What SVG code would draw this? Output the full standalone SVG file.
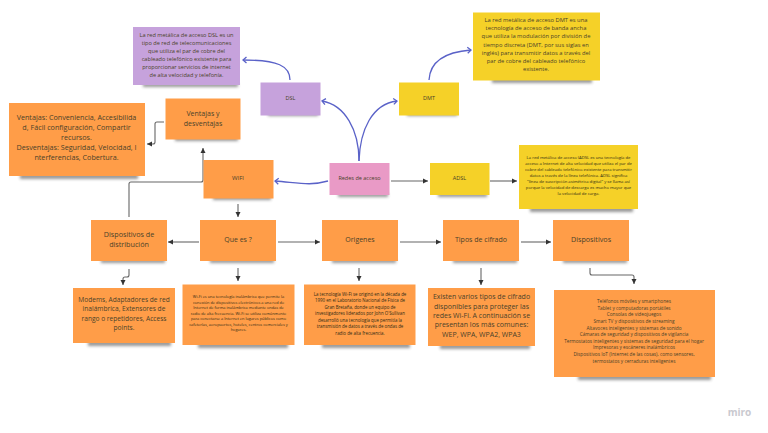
<svg xmlns="http://www.w3.org/2000/svg" width="768" height="433" viewBox="0 0 768 433">
<style>
text{font-family:"Open Sans","Noto Sans","Liberation Sans",sans-serif;fill:#4a4228;text-anchor:middle}
.o{fill:#ff9d48}.y{fill:#f5d128}.p{fill:#c6a2dc}.m{fill:#e99ac6}
.s{fill:#333;opacity:.5;filter:url(#b)}
.bl{fill:none;stroke:#5a62c8;stroke-width:1.3;marker-end:url(#ab)}
.gr{fill:none;stroke:#666;stroke-width:1.1;marker-end:url(#ag)}
.t39{font-size:3.9px}.t4{font-size:4px}.t42{font-size:4.2px}.t44{font-size:4.4px}.t47{font-size:4.75px}.t55{font-size:5.5px}.t56{font-size:5.6px}.t58{font-size:5.8px}.t6{font-size:6px}.t66{font-size:6.6px}.t7{font-size:7px}.t72{font-size:7.2px}
</style>
<defs>
<filter id="b" x="-20%" y="-200%" width="140%" height="500%"><feGaussianBlur stdDeviation="1.8"/></filter>
<marker id="ab" markerWidth="7" markerHeight="8" refX="5.5" refY="4" orient="auto" markerUnits="userSpaceOnUse"><path d="M2 1L5.500 4L2 7" fill="none" stroke="#5a62c8" stroke-width="1.3"/></marker>
<marker id="ag" markerWidth="6" markerHeight="6" refX="5" refY="3" orient="auto" markerUnits="userSpaceOnUse"><path d="M0 .5L5 3L0 5.500Z" fill="#333"/></marker>
</defs>
<rect width="768" height="433" fill="#fff"/>
<g id="connectors">
<path class="bl" d="M290 80C290 66 278 60 243 60"/>
<path class="bl" d="M359 161C359 130 345 105 322 101"/>
<path class="bl" d="M359 161C360 130 372 104 397 101"/>
<path class="bl" d="M429 80C430 62 445 52 471 50"/>
<path class="bl" d="M328 181C310 186 300 183 275 181"/>
<path class="gr" d="M391 181H428"/>
<path class="gr" d="M490 181H517"/>
<path class="gr" d="M238 204V217"/>
<path class="gr" d="M199 242H168"/>
<path class="gr" d="M278 242H320"/>
<path class="gr" d="M400 242H441"/>
<path class="gr" d="M521 242H551"/>
<path class="gr" d="M129 217V184Q129 182 131 182H201Q203 182 203 180V148"/>
<path class="gr" d="M164 122H157Q155 122 155 124V142Q155 144 153 144H147"/>
<path class="gr" d="M129 269V275Q129 277 127 277H125Q123 277 123 279V285"/>
<path class="gr" d="M238 268V281"/>
<path class="gr" d="M359 268V281"/>
<path class="gr" d="M481 268V285"/>
<path class="gr" d="M590 268V273Q590 275 592 275H632Q634 275 634 277V284"/>
</g>
<g id="dsl-desc"><rect class="s" x="143" y="83" width="95" height="4"/><rect class="p" x="133" y="27" width="107" height="58"/>
<text class="t56"><tspan x="186.500" y="37">La red metálica de acceso DSL es un</tspan><tspan x="186.500" y="45">tipo de red de telecomunicaciones</tspan><tspan x="186.500" y="53">que utiliza el par de cobre del</tspan><tspan x="186.500" y="61">cableado telefónico existente para</tspan><tspan x="186.500" y="69">proporcionar servicios de internet</tspan><tspan x="186.500" y="77">de alta velocidad y telefonía.</tspan></text></g>
<g id="dsl"><rect class="s" x="268" y="113" width="50" height="3"/><rect class="p" x="260.500" y="82.500" width="60" height="33"/><text class="t55" x="290.500" y="100">DSL</text></g>
<g id="dmt"><rect class="s" x="407" y="113" width="50" height="3"/><rect class="y" x="399" y="82.500" width="60" height="33"/><text class="t55" x="429" y="100">DMT</text></g>
<g id="dmt-desc"><rect class="s" x="492" y="78" width="100" height="5"/><rect class="y" x="473" y="12.500" width="127" height="68"/>
<text class="t58"><tspan x="536" y="22">La red metálica de acceso DMT es una</tspan><tspan x="536" y="30">tecnología de acceso de banda ancha</tspan><tspan x="536" y="38">que utiliza la modulación por división de</tspan><tspan x="536" y="46.500">tiempo discreta (DMT, por sus siglas en</tspan><tspan x="536" y="54.500">inglés) para transmitir datos a través del</tspan><tspan x="536" y="63">par de cobre del cableado telefónico</tspan><tspan x="536" y="71">existente.</tspan></text></g>
<g id="ventajas"><rect class="s" x="175" y="137" width="63" height="4"/><rect class="o" x="165.500" y="98.500" width="75" height="41"/><text class="t7"><tspan x="203" y="116">Ventajas y</tspan><tspan x="203" y="125.500">desventajas</tspan></text></g>
<g id="ventajas-list"><rect class="s" x="20" y="174" width="118" height="5"/><rect class="o" x="9" y="103" width="136" height="73"/>
<text class="t72"><tspan x="76.500" y="120">Ventajas: Conveniencia, Accesibilida</tspan><tspan x="76.500" y="130">d, Fácil configuración, Compartir</tspan><tspan x="76.500" y="140">recursos.</tspan><tspan x="76.500" y="150">Desventajas: Seguridad, Velocidad, I</tspan><tspan x="76.500" y="160">nterferencias, Cobertura.</tspan></text></g>
<g id="wifi"><rect class="s" x="213" y="196" width="58" height="4"/><rect class="o" x="203.500" y="160" width="70" height="38.500"/><text class="t6" x="238" y="179.500">WIFI</text></g>
<g id="redes"><rect class="s" x="338" y="193" width="50" height="4"/><rect class="m" x="329.500" y="163" width="60" height="32"/><text class="t55" x="359.500" y="180">Redes de acceso</text></g>
<g id="adsl"><rect class="s" x="438" y="193" width="49" height="4"/><rect class="y" x="430" y="163" width="59.500" height="32"/><text class="t55" x="459.500" y="180">ADSL</text></g>
<g id="adsl-desc"><rect class="s" x="530" y="207" width="103" height="5"/><rect class="y" x="519" y="145" width="119" height="64"/>
<text class="t42" style="fill:#2e2a14"><tspan x="578.500" y="158.500">La red metálica de acceso (ADSL es una tecnología de</tspan><tspan x="578.500" y="164.500">acceso a Internet de alta velocidad que utiliza el par de</tspan><tspan x="578.500" y="170.500">cobre del cableado telefónico existente para transmitir</tspan><tspan x="578.500" y="176.500">datos a través de la línea telefónica. ADSL significa</tspan><tspan x="578.500" y="182.500">"línea de suscripción asimétrica digital" y se llama así</tspan><tspan x="578.500" y="188.500">porque la velocidad de descarga es mucho mayor que</tspan><tspan x="578.500" y="194.500">la velocidad de carga.</tspan></text></g>
<g id="dist"><rect class="s" x="101" y="259" width="64" height="4"/><rect class="o" x="91" y="220" width="76" height="41"/><text class="t72"><tspan x="129" y="236.500">Dispositivos de</tspan><tspan x="129" y="246.500">distribución</tspan></text></g>
<g id="quees"><rect class="s" x="210" y="259" width="64" height="4"/><rect class="o" x="200" y="220" width="76" height="41"/><text class="t7" x="238" y="241.500">Que es ?</text></g>
<g id="origenes"><rect class="s" x="332" y="259" width="64" height="4"/><rect class="o" x="322" y="220" width="76" height="41"/><text class="t7" x="360" y="241.500">Origenes</text></g>
<g id="cifrado"><rect class="s" x="453" y="259" width="64" height="4"/><rect class="o" x="443" y="220" width="76" height="41"/><text class="t7" x="481" y="241.500">Tipos de cifrado</text></g>
<g id="dispositivos"><rect class="s" x="563" y="259" width="64" height="4"/><rect class="o" x="553" y="220" width="76" height="41"/><text class="t72" x="591" y="241.500">Dispositivos</text></g>
<g id="modems"><rect class="s" x="88" y="341" width="83" height="5"/><rect class="o" x="73" y="288" width="102" height="55"/>
<text class="t66"><tspan x="124" y="302">Modems, Adaptadores de red</tspan><tspan x="124" y="311">inalámbrica, Extensores de</tspan><tspan x="124" y="320.500">rango o repetidores, Access</tspan><tspan x="124" y="329.500">points.</tspan></text></g>
<g id="wifi-desc"><rect class="s" x="198" y="343" width="90" height="5"/><rect class="o" x="182.500" y="284.500" width="112" height="60.500"/>
<text class="t39" style="fill:#2e2a14"><tspan x="238.500" y="298">Wi-Fi es una tecnología inalámbrica que permite la</tspan><tspan x="238.500" y="303.500">conexión de dispositivos electrónicos a una red de</tspan><tspan x="238.500" y="309">Internet de forma inalámbrica mediante ondas de</tspan><tspan x="238.500" y="314.500">radio de alta frecuencia. Wi-Fi se utiliza comúnmente</tspan><tspan x="238.500" y="320">para conectarse a Internet en lugares públicos como</tspan><tspan x="238.500" y="325.500">cafeterías, aeropuertos, hoteles, centros comerciales y</tspan><tspan x="238.500" y="331">hogares.</tspan></text></g>
<g id="origen-desc"><rect class="s" x="322" y="343" width="88" height="5"/><rect class="o" x="304" y="284.500" width="111.500" height="60.500"/>
<text class="t44" style="fill:#2e2a14"><tspan x="360" y="295.500">La tecnología Wi-Fi se originó en la década de</tspan><tspan x="360" y="302">1990 en el Laboratorio Nacional de Física de</tspan><tspan x="360" y="308.500">Gran Bretaña, donde un equipo de</tspan><tspan x="360" y="315">investigadores liderados por John O'Sullivan</tspan><tspan x="360" y="321.500">desarrolló una tecnología que permitía la</tspan><tspan x="360" y="328">transmisión de datos a través de ondas de</tspan><tspan x="360" y="334.500">radio de alta frecuencia.</tspan></text></g>
<g id="cifrado-desc"><rect class="s" x="440" y="344" width="90" height="5"/><rect class="o" x="428" y="288" width="107" height="58"/>
<text class="t7"><tspan x="481.500" y="299">Existen varios tipos de cifrado</tspan><tspan x="481.500" y="308.500">disponibles para proteger las</tspan><tspan x="481.500" y="318">redes Wi-Fi. A continuación se</tspan><tspan x="481.500" y="327">presentan los más comunes:</tspan><tspan x="481.500" y="337">WEP, WPA, WPA2, WPA3</tspan></text></g>
<g id="disp-desc"><rect class="s" x="578" y="375" width="133" height="5"/><rect class="o" x="554" y="290" width="161" height="87"/>
<text class="t47"><tspan x="634" y="303">Teléfonos móviles y smartphones</tspan><tspan x="634" y="309.500">Tablet y computadoras portátiles</tspan><tspan x="634" y="316">Consolas de videojuegos</tspan><tspan x="634" y="322.500">Smart TV y dispositivos de streaming</tspan><tspan x="634" y="329.500">Altavoces inteligentes y sistemas de sonido</tspan><tspan x="634" y="336">Cámaras de seguridad y dispositivos de vigilancia</tspan><tspan x="634" y="342.500">Termostatos inteligentes y sistemas de seguridad para el hogar</tspan><tspan x="634" y="349">Impresoras y escáneres inalámbricos</tspan><tspan x="634" y="356">Dispositivos IoT (Internet de las cosas), como sensores,</tspan><tspan x="634" y="363">termostatos y cerraduras inteligentes</tspan></text></g>
<text x="739.500" y="416" font-size="10" font-weight="700" style="fill:#c9c9cf">miro</text>
</svg>
